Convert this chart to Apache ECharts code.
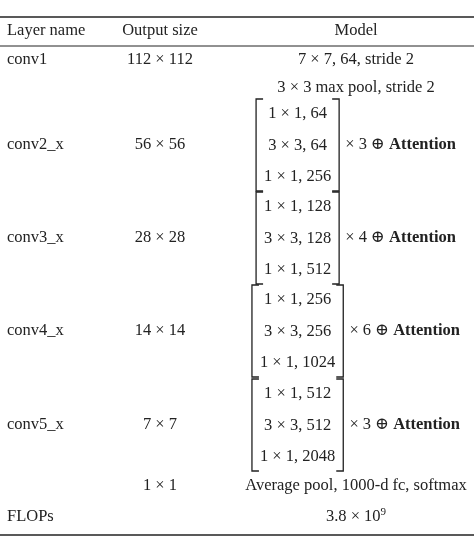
<!DOCTYPE html><html><head><meta charset="utf-8">
<script src="https://cdn.jsdelivr.net/npm/echarts@6/dist/echarts.min.js"></script>
<style>body{margin:0;background:#fff}#c{width:474px;height:536px}</style></head><body><div id="c"></div>
<script>
const headers = ['Layer name', 'Output size', 'Model'];
const layerNames = ['conv1', '', 'conv2_x', 'conv3_x', 'conv4_x', 'conv5_x', '', 'FLOPs'];
const outputSizes = ['112 × 112', '', '56 × 56', '28 × 28', '14 × 14', '7 × 7', '1 × 1', ''];
const plainModels = {0: '7 × 7, 64, stride 2', 1: '3 × 3 max pool, stride 2', 6: 'Average pool, 1000-d fc, softmax'};
const blockRows = {
  2: ['1 × 1, 64', '3 × 3, 64', '1 × 1, 256'],
  3: ['1 × 1, 128', '3 × 3, 128', '1 × 1, 512'],
  4: ['1 × 1, 256', '3 × 3, 256', '1 × 1, 1024'],
  5: ['1 × 1, 512', '3 × 3, 512', '1 × 1, 2048']
};
const repeats = {2: 3, 3: 4, 4: 6, 5: 3};
const flops = {base: '3.8 × 10', exp: '9'};

const FONT = '16.5px "Liberation Serif", "DejaVu Serif", serif';
const BFONT = 'bold 16.5px "Liberation Serif", "DejaVu Serif", serif';
const cv = document.createElement('canvas').getContext('2d');
function tw(t, f) { cv.font = f || FONT; return cv.measureText(t).width; }

const rowY = [60, 88, 145, 238, 331, 425, 486, 517];
const g = [];
const black = '#222';
function txt(x, y, s, align, f) {
  g.push({type: 'text', x, y, style: {text: s, font: f || FONT, fill: black, align: align || 'left', verticalAlign: 'middle'}});
}
function line(x1, y1, x2, y2, w) {
  g.push({type: 'line', shape: {x1, y1, x2, y2}, style: {stroke: black, lineWidth: w}});
}
line(0, 17, 474, 17, 1.5);
line(0, 46, 474, 46, 1);
line(0, 535, 474, 535, 1.5);
txt(7, 31, headers[0]);
txt(160, 31, headers[1], 'center');
txt(356, 31, headers[2], 'center');
const MC = 356;
rowY.forEach((y, i) => {
  if (layerNames[i]) txt(7, y, layerNames[i]);
  if (outputSizes[i]) txt(160, y, outputSizes[i], 'center');
  if (plainModels[i]) txt(MC, y, plainModels[i], 'center');
  if (blockRows[i]) {
    const rows = blockRows[i];
    const mw = Math.max(...rows.map(r => tw(r)));
    const suf1 = ' × ' + repeats[i] + ' ⊕ ';
    const suf2 = 'Attention';
    const bw = mw + 16;
    const total = bw + 2 + tw(suf1) + tw(suf2, BFONT);
    const L = MC - total / 2, R = L + bw;
    const top = y - 46, bot = y + 46;
    g.push({type: 'polyline', shape: {points: [[L + 7, top], [L, top], [L, bot], [L + 7, bot]]}, style: {stroke: black, lineWidth: 1.3, fill: null}});
    g.push({type: 'polyline', shape: {points: [[R - 7, top], [R, top], [R, bot], [R - 7, bot]]}, style: {stroke: black, lineWidth: 1.3, fill: null}});
    rows.forEach((r, k) => txt((L + R) / 2, y - 31 + k * 31.5, r, 'center'));
    txt(R + 2, y, suf1);
    txt(R + 2 + tw(suf1), y, suf2, 'left', BFONT);
  }
});
g.push({type: 'text', x: MC, y: rowY[7], style: {
  text: '{b|' + flops.base + '}{s|' + flops.exp + '}', align: 'center', verticalAlign: 'middle',
  rich: {b: {font: FONT, fill: black}, s: {font: '11px "Liberation Serif", serif', fill: black, verticalAlign: 'top', padding: [0,0,9,0]}}
}});
const chart = echarts.init(document.getElementById('c'));
chart.setOption({animation: false, graphic: g});
</script></body></html>
